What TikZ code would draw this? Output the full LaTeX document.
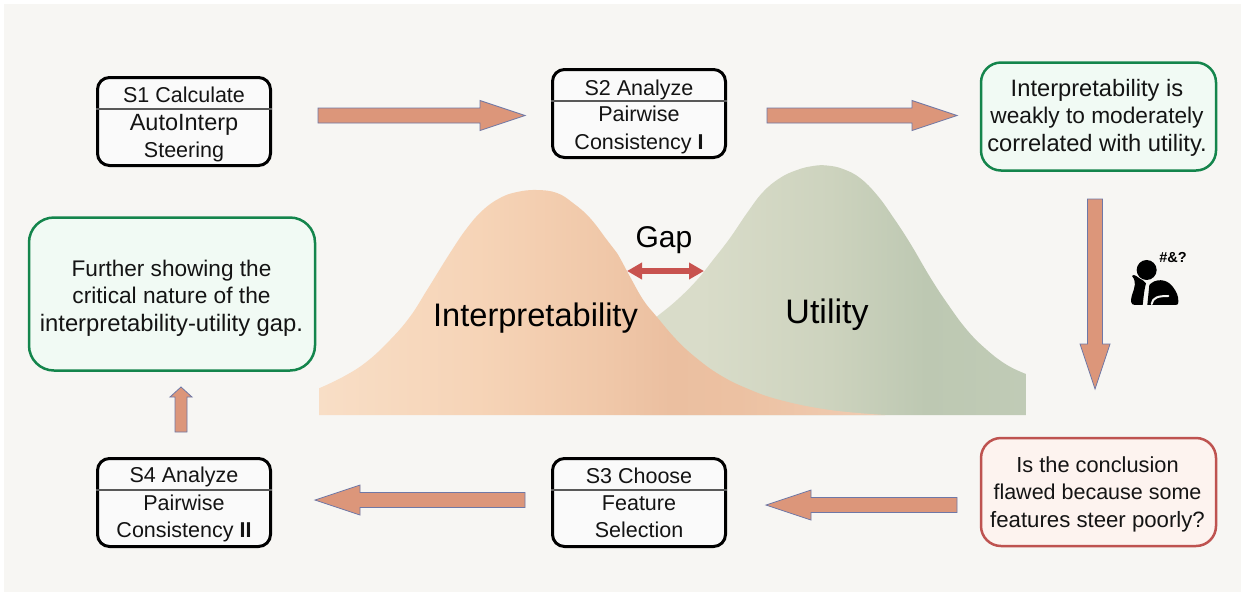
\documentclass[tikz,border=0pt]{standalone}
\usepackage{fontspec}
\setmainfont{Liberation Sans}
\usetikzlibrary{calc,arrows.meta}
\definecolor{cardbg}{HTML}{F7F6F3}
\definecolor{arrowfill}{HTML}{DC967A}
\definecolor{arrowedge}{HTML}{6F78A6}
\definecolor{goodedge}{HTML}{14854C}
\definecolor{goodfill}{HTML}{F1FAF4}
\definecolor{badedge}{HTML}{BE5350}
\definecolor{badfill}{HTML}{FDF3EF}
\definecolor{gapred}{HTML}{C8534F}
\definecolor{txt}{HTML}{141414}
\definecolor{HILa}{HTML}{F8DEC6}
\definecolor{HILb}{HTML}{F6D4B7}
\definecolor{HILc}{HTML}{F0C8A9}
\definecolor{HILd}{HTML}{EBBFA0}
\definecolor{HILe}{HTML}{ECC1A2}
\definecolor{HILf}{HTML}{F0CDB3}
\definecolor{UTa}{HTML}{D9DCC9}
\definecolor{UTb}{HTML}{CDD3BE}
\definecolor{UTc}{HTML}{BDC8B2}
\definecolor{UTd}{HTML}{C0CBB6}
\pgfdeclarehorizontalshading{interhill}{100bp}{
  color(0bp)=(HILa); color(25bp)=(HILa); color(39bp)=(HILb); color(50bp)=(HILc);
  color(56bp)=(HILd); color(62bp)=(HILe); color(75bp)=(HILf); color(100bp)=(HILf)}
\pgfdeclarehorizontalshading{utilhill}{100bp}{
  color(0bp)=(UTa); color(33bp)=(UTa); color(49.6bp)=(UTb); color(62bp)=(UTc);
  color(75bp)=(UTd); color(100bp)=(UTd)}
\tikzset{
  stepframe/.style={draw=black,line width=3pt,fill=white!98!black,rounded corners=12pt,minimum width=173pt,minimum height=88pt,inner sep=0pt},
  verdict/.style={line width=2.5pt,rounded corners=20pt,inner sep=0pt},
  good/.style={verdict,draw=goodedge,fill=goodfill},
  bad/.style={verdict,draw=badedge,fill=badfill},
  verdicttext/.style={inner sep=0pt,align=center,text=txt,font=\fontsize{22}{27.5}\selectfont},
  steptext/.style={text=txt,align=center,inner sep=0pt,font=\fontsize{21.5}{27.5}\selectfont},
  blockarrow/.style={draw=arrowedge,fill=arrowfill,line width=.8pt,line join=miter},
  hilltext/.style={text=black,inner sep=0pt}
}
\newcommand{\sized}[1]{\fontsize{#1}{27.5}\selectfont}
% \stepnode{name}{cx}{top}{title dy}{title}{body dy}{body}
\newcommand{\stepnode}[7]{
  \node[stepframe] (#1) at (#2,#3+44.5) {};
  \draw[line width=1.5pt,draw=black!65] (#1.west |- 0,#3+32) coordinate (#1l) -- (#1.east |- 0,#3+32) coordinate (#1r);
  \node[steptext] (#1t) at (#2,#3+18+#4) {#5};
  \node[steptext] (#1b) at (#2,#3+60+#6) {#7};
}
% \blockarr{from}{to}{shaft half}{head length}{head half}
\newcommand{\blockarr}[5]{
  \draw[blockarrow]
    ($(#1)!#3!90:(#2)$) --
    ($(#2)!#4!(#1)!#3!-90:(#1)$) --
    ($(#2)!#4!(#1)!#5!-90:(#1)$) --
    (#2) --
    ($(#2)!#4!(#1)!#5!90:(#1)$) --
    ($(#2)!#4!(#1)!#3!90:(#1)$) --
    ($(#1)!#3!-90:(#2)$) -- cycle;
}
\begin{document}
\begin{tikzpicture}[x=1pt,y=-1pt]
\useasboundingbox (0,0) rectangle (1246,595);
\fill[white] (0,0) rectangle (1246,595);
\fill[cardbg] (4,4) rectangle (1241,592);

% hills
\begin{scope}
  \clip plot[smooth,tension=.7] coordinates {(640,330) (656.7,316.7) (677,300) (697,280) (713,260) (730,238) (747,213) (763,192) (780,178) (797,170) (813,166) (827,165.5) (843,169) (860,178) (877,195) (893,217) (910,243) (930,277) (947,303) (967,330) (987,350) (1007,365) (1026,374)} -- (1026,415) -- (640,415) -- cycle;
  \shade[shading=utilhill] (640,160) rectangle (1026,416);
\end{scope}
\begin{scope}
  \clip plot[smooth,tension=.7] coordinates {(319,388.3) (343.3,376.7) (366.7,361.7) (390,340) (410,316.7) (427,290) (450,253) (467,228) (483,210) (500,198) (517,192) (537,190) (557,193) (573,203) (590,218) (607,240) (617,253) (630,276.7) (643.3,300) (656.7,316.7) (676.7,340) (696.7,358.3) (720,375) (746.7,388.3) (780,400) (830,410) (885,415)} -- (319,415) -- cycle;
  \shade[shading=interhill] (319,185) rectangle (885,416);
\end{scope}

\node[hilltext,font=\fontsize{32.6}{36}\selectfont] (hinter) at (535.5,318) {Interpretability};
\node[hilltext,font=\fontsize{34}{38}\selectfont] (hutil) at (827,315) {Utility};
\node[hilltext,font=\fontsize{30}{34}\selectfont] (hgap) at (664,240) {Gap};
\coordinate (gapl) at (627,271);
\coordinate (gapr) at (704,271);
\draw[gapred,line width=6pt,{Triangle[length=15pt,width=16pt]}-{Triangle[length=15pt,width=16pt]}] (gapl) -- (gapr);

% steps
\stepnode{sa}{184}{77}{0}{S1 Calculate}{1}{{\fontsize{23.5}{27.5}\selectfont AutoInterp}\\Steering}
\stepnode{sb}{639}{69}{2.5}{S2 Analyze}{1}{Pairwise\\Consistency \textbf{I}}
\stepnode{sc}{639}{458}{0}{S3 Choose}{-1.5}{Feature\\Selection}
\stepnode{sd}{184}{458}{1}{S4 Analyze}{0.5}{Pairwise\\Consistency \textbf{II}}

% verdicts
\node[good,minimum width=235pt,minimum height=108pt] (vtop) at (1098.5,116.5) {};
\node[verdicttext] (vtopt) at (1097,117.5) {\sized{23.7}Interpretability is\\\sized{22.7}weakly to moderately\\\sized{23.7}correlated with utility.};
\node[bad,minimum width=235pt,minimum height=108pt] (vq) at (1098.5,492) {};
\node[verdicttext] (vqt) at (1097.5,494) {\sized{21.8}Is the conclusion\\\sized{21.5}flawed because some\\\sized{22.2}features steer poorly?};
\node[good,rounded corners=25pt,minimum width=286pt,minimum height=153pt] (vend) at (172,294) {};
\node[verdicttext] (vendt) at (171.5,298) {\sized{22.6}Further showing the\\\sized{22.7}critical nature of the\\\sized{23.8}interpretability-utility gap.};

% arrows
\coordinate (aas) at (318,115.5); \coordinate (aae) at (525,115.5);
\coordinate (abs) at (767,115.5); \coordinate (abe) at (957,115.5);
\coordinate (acs) at (1095,199); \coordinate (ace) at (1095,389);
\coordinate (ads) at (957,505); \coordinate (ade) at (766,505);
\coordinate (aes) at (525,500); \coordinate (aee) at (315,500);
\coordinate (afs) at (181,432); \coordinate (afe) at (181,387);
\blockarr{aas}{aae}{7.5pt}{45pt}{15pt}
\blockarr{abs}{abe}{7.5pt}{45pt}{15pt}
\blockarr{acs}{ace}{7.5pt}{45pt}{15pt}
\blockarr{ads}{ade}{7.5pt}{45pt}{15pt}
\blockarr{aes}{aee}{7.5pt}{45pt}{15pt}
\blockarr{afs}{afe}{6pt}{10pt}{11pt}

% thinking figure
\begin{scope}[shift={(1060,190)},x=.3333pt,y=-.3333pt]
  \fill[black] (260,240) circle[radius=30];
  \fill[black] (216,258) .. controls (222,248) and (235,265) .. (250,272) -- (258,280) .. controls (252,300) and (250,330) .. (248,345) -- (225,345) .. controls (210,345) and (212,330) .. (216,315) .. controls (225,290) and (230,275) .. (216,258) -- cycle;
  \fill[black] (268,285) .. controls (285,265) and (320,265) .. (338,290) .. controls (350,305) and (356,320) .. (355,335) .. controls (355,345) and (350,345) .. (345,345) -- (262,345) -- cycle;
  \draw[cardbg,line width=2pt,line cap=round] (275,342) .. controls (278,322) and (295,318) .. (325,318);
\end{scope}
\node[inner sep=0pt,font=\bfseries\fontsize{14.5}{16}\selectfont] (swear) at (1173,258) {\#\&?};
\end{tikzpicture}
\end{document}
